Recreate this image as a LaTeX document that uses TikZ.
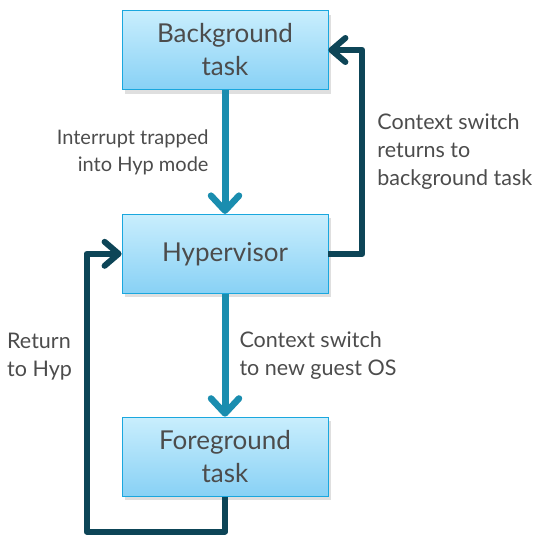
\documentclass[tikz,border=0pt]{standalone}
\usepackage{fontspec}
\setmainfont{Lato}
\usetikzlibrary{arrows.meta,positioning,shadows}
\definecolor{boxtop}{HTML}{C9EEFD}
\definecolor{boxbot}{HTML}{88D1F5}
\definecolor{boxline}{HTML}{1AA7DE}
\definecolor{txtgray}{HTML}{4C4C4C}
\definecolor{flowteal}{HTML}{1A8DAF}
\definecolor{loopdark}{HTML}{0D4557}
\tikzset{
  taskbox/.style={rectangle,draw=boxline,line width=0.8pt,
    top color=boxtop,bottom color=boxbot,
    minimum width=206pt,minimum height=79pt,text width=196pt,
    align=center,text=txtgray,font=\fontsize{26}{33}\selectfont,
    drop shadow={opacity=0.25,shadow xshift=3pt,shadow yshift=-4pt}},
  flow/.style={draw=flowteal,line width=7pt,
    -{Straight Barb[length=15pt,width=28pt,line width=6.5pt,round]}},
  loopback/.style={draw=loopdark,line width=6pt,line join=round,
    -{Straight Barb[length=14pt,width=24pt,line width=6pt,round]}},
  lbl/.style={inner sep=0pt,text=txtgray,font=\fontsize{21.5}{28}\selectfont}
}
\begin{document}
\begin{tikzpicture}[x=1pt,y=-1pt]
\useasboundingbox (0,0) rectangle (540,550);

\node [taskbox] (bg) at (225,50) {Background\\task};
\node [taskbox,below=124pt of bg] (hyp) {Hypervisor};
\node [taskbox,below=123pt of hyp] (fg) {Foreground\\task};

% main flow
\draw [flow] (bg) -- node [lbl,left=13pt,align=right,
  font=\fontsize{20}{27}\selectfont] {Interrupt trapped\\into Hyp mode} (hyp);
\draw [flow] (hyp) -- node [lbl,right=11pt,align=left]
  {Context switch\\to new guest OS} (fg);

% loops back
\draw [loopback] (hyp.east) -- ++(34,0) |- node [pos=0.25,lbl,right=12pt,align=left]
  {Context switch\\returns to\\background task} (bg.east);
\draw [loopback] (fg.south) -- ++(0,35) -| ([xshift=-35pt]hyp.west) -- (hyp.west);
\node [lbl,anchor=west,align=left] (ret) at (7,357) {Return\\to Hyp};
\end{tikzpicture}
\end{document}
